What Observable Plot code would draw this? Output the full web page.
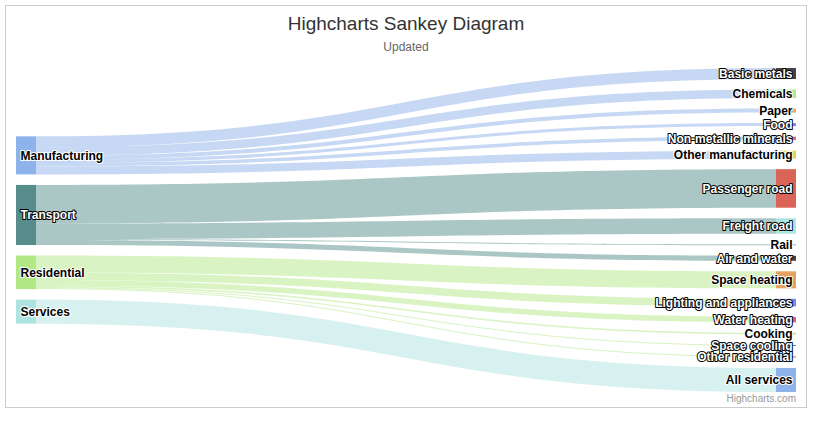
<!DOCTYPE html>
<html>
<head>
<meta charset="utf-8">
<script src="https://cdn.jsdelivr.net/npm/d3@7"></script>
<script src="https://cdn.jsdelivr.net/npm/@observablehq/plot@0.6"></script>
<style>
  html, body { margin: 0; padding: 0; background: #fff; }
  body { width: 816px; height: 422px; overflow: hidden; position: relative; font-family: "Liberation Sans", Arial, sans-serif; }
  #chart { position: absolute; left: 0; top: 0; }
  #frame { position: absolute; left: 5px; top: 5px; width: 802px; height: 403px; border: 1px solid #cccccc; box-sizing: border-box; pointer-events: none; z-index: 2; }
  .hc-title { position: absolute; left: 0; width: 812px; text-align: center; z-index: 3; line-height: 1; }
  #title { top: 14px; font-size: 19px; color: #333333; }
  #subtitle { top: 41px; font-size: 12px; color: #666666; }
  #credits { position: absolute; right: 20px; top: 394px; font-size: 10px; color: #999999; z-index: 3; line-height: 1; }
</style>
</head>
<body>
<div id="chart"></div>
<div id="frame"></div>
<div id="title" class="hc-title">Highcharts Sankey Diagram</div>
<div id="subtitle" class="hc-title">Updated</div>
<div id="credits">Highcharts.com</div>
<script>
// ---- data ----
const sourceNodes = ["Manufacturing", "Transport", "Residential", "Services"];
const targetNodes = [
  "Basic metals", "Chemicals", "Paper", "Food", "Non-metallic minerals", "Other manufacturing",
  "Passenger road", "Freight road", "Rail", "Air and water",
  "Space heating", "Lighting and appliances", "Water heating", "Cooking", "Space cooling", "Other residential",
  "All services"
];
const targetSource = [
  "Manufacturing", "Manufacturing", "Manufacturing", "Manufacturing", "Manufacturing", "Manufacturing",
  "Transport", "Transport", "Transport", "Transport",
  "Residential", "Residential", "Residential", "Residential", "Residential", "Residential",
  "Services"
];
const flowValues = [
  11, 8.5, 4, 3, 3.5, 8,
  38.5, 15.5, 1, 5,
  17, 7.5, 5.5, 1.5, 1, 1,
  24
];

// ---- styles ----
const nodeColors = {
  "Manufacturing": "#8eb2ea", "Transport": "#568d8b", "Residential": "#b3e985", "Services": "#aee4e0",
  "Basic metals": "#444446", "Chemicals": "#a8ec92", "Paper": "#eaa865", "Food": "#8589e6",
  "Non-metallic minerals": "#e56a88", "Other manufacturing": "#e0d461",
  "Passenger road": "#db6459", "Freight road": "#ade6e1", "Rail": "#8eb2ea", "Air and water": "#444446",
  "Space heating": "#e5a263", "Lighting and appliances": "#8085e4", "Water heating": "#dd6280",
  "Cooking": "#dcd062", "Space cooling": "#3f8f8d", "Other residential": "#e8625c", "All services": "#8eb2ea"
};
const lightLabels = new Set(["Basic metals", "Food", "Non-metallic minerals", "Passenger road", "Freight road",
  "Air and water", "Lighting and appliances", "Water heating", "Space cooling", "Other residential", "Transport"]);

const PAD = 10.5;      // node padding (value units)
const NW = 20 / 780;   // node width (x units)

// ---- layout ----
const total = d3.sum(flowValues);
const H = total + PAD * (targetNodes.length - 1);
const srcTotals = sourceNodes.map(s => d3.sum(flowValues.filter((v, i) => targetSource[i] === s)));
const nodes = [];
let yc = (H - (total + PAD * (sourceNodes.length - 1))) / 2;
sourceNodes.forEach((s, i) => { nodes.push({name: s, col: 0, y0: yc, y1: yc + srcTotals[i]}); yc += srcTotals[i] + PAD; });
yc = 0;
targetNodes.forEach((t, i) => { nodes.push({name: t, col: 1, y0: yc, y1: yc + flowValues[i]}); yc += flowValues[i] + PAD; });

const cursor = new Map(nodes.filter(n => n.col === 0).map(n => [n.name, n.y0]));
const linkRows = [];
targetNodes.forEach((t, i) => {
  const s = targetSource[i], v = flowValues[i];
  const sy = cursor.get(s); cursor.set(s, sy + v);
  const tn = nodes.find(n => n.name === t);
  linkRows.push({id: i, src: s, x: NW, y1: sy, y2: sy + v});
  linkRows.push({id: i, src: s, x: 1 - NW, y1: tn.y0, y2: tn.y1});
});

const labelFont = "'Liberation Sans', Arial, sans-serif";
const textOpts = (d) => ({});
const plot = Plot.plot({
  width: 816,
  height: 422,
  style: {background: "transparent", overflow: "visible"},
  x: {domain: [0, 1], range: [16, 796], axis: null},
  y: {domain: [0, H], range: [68, 392], axis: null},
  color: {type: "identity"},
  marks: [
    Plot.areaY(linkRows, {
      x: "x", y1: "y1", y2: "y2", z: "id",
      fill: d => nodeColors[d.src], fillOpacity: 0.5, curve: "bump-x"
    }),
    Plot.rect(nodes, {
      x1: d => d.col ? 1 - NW : 0, x2: d => d.col ? 1 : NW,
      y1: "y0", y2: "y1", fill: d => nodeColors[d.name]
    }),
    Plot.text(nodes.filter(n => n.col === 0), {
      x: 0, y: d => (d.y0 + d.y1) / 2, text: "name", dx: 4, textAnchor: "start",
      fill: d => lightLabels.has(d.name) ? "#ffffff" : "#000000",
      stroke: d => lightLabels.has(d.name) ? "#000000" : "#ffffff",
      strokeWidth: 2, strokeLinejoin: "round",
      fontWeight: "bold", fontSize: 12, fontFamily: labelFont
    }),
    Plot.text(nodes.filter(n => n.col === 1), {
      x: 1, y: d => (d.y0 + d.y1) / 2, text: "name", dx: -4, textAnchor: "end",
      fill: d => lightLabels.has(d.name) ? "#ffffff" : "#000000",
      stroke: d => lightLabels.has(d.name) ? "#000000" : "#ffffff",
      strokeWidth: 2, strokeLinejoin: "round",
      fontWeight: "bold", fontSize: 12, fontFamily: labelFont
    })
  ]
});
document.getElementById("chart").appendChild(plot);
</script>
</body>
</html>
